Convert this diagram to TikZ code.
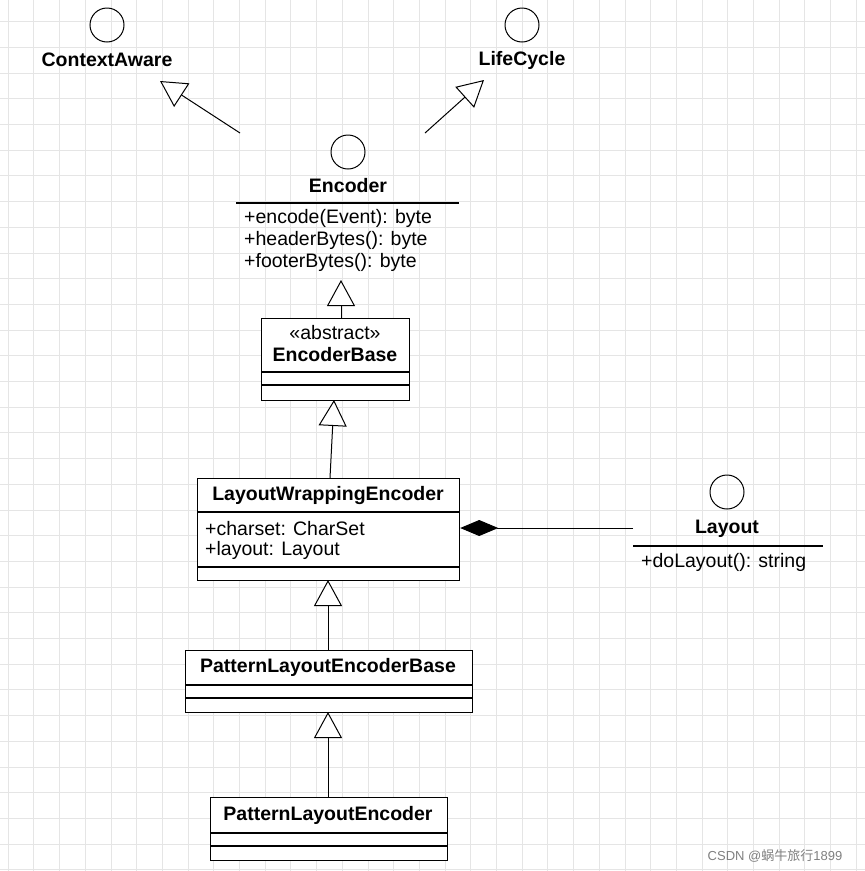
\documentclass[tikz,border=0pt]{standalone}
\usepackage{fontspec}
\setmainfont{Liberation Sans}
\newfontfamily\cjk{Noto Sans CJK SC}
\usetikzlibrary{arrows.meta}
\begin{document}
\begin{tikzpicture}[x=1pt,y=-1pt,
  txt/.style={inner sep=0pt,font=\fontsize{19.5}{22}\selectfont},
  bold/.style={txt,font=\fontsize{19.5}{22}\selectfont\bfseries},
  cls/.style={draw,line width=1.2pt,fill=white,inner sep=0pt,anchor=north west},
  iface/.style={draw,line width=1pt,circle,minimum size=34pt,inner sep=0pt},
  gen/.style={line width=1pt,-{Triangle[open,length=26pt,width=28pt,fill=white]}},
  sep/.style={line width=1.2pt}]
\useasboundingbox (0,0) rectangle (865,871);
\fill[white] (0,0) rectangle (865,871);
\foreach \i in {0,...,34} {
  \draw[gray!20,line width=1pt] ({25.7*\i-17.5},0) -- ({25.7*\i-17.5},871);
  \draw[gray!20,line width=1pt] (0,{25.7*\i-4}) -- (865,{25.7*\i-4});
}
% interfaces
\node[iface] (ca) at (107,25) {};
\node[bold] (caT) at (107,60) {ContextAware};
\node[iface] (lc) at (522,25) {};
\node[bold] (lcT) at (522,60) {LifeCycle};
\node[iface] (enc) at (348,152) {};
\node[bold] (encT) at (348,186) {Encoder};
\coordinate (encL) at (236,203); \coordinate (encR) at (459,203);
\draw[sep] (encL) -- (encR);
\node[txt,anchor=west] (m1) at (244,218) {+encode(Event): byte};
\node[txt,anchor=west] (m2) at (244,240) {+headerBytes(): byte};
\node[txt,anchor=west] (m3) at (244,262) {+footerBytes(): byte};
\coordinate (encB) at (341,280);
\coordinate (c1) at (240,133); \coordinate (c1t) at (160,81);
\coordinate (c2) at (425,133); \coordinate (c2t) at (484,80);
\draw[gen] (c1) -- (c1t);
\draw[gen] (c2) -- (c2t);
% EncoderBase
\node[cls,minimum width=148pt,minimum height=82pt] (eb) at (261,318) {};
\node[txt] (ebS) at (335,333) {«abstract»};
\node[bold] (ebT) at (335,355) {EncoderBase};
\draw[sep] (261,372) -- (409,372); \draw[sep] (261,385) -- (409,385);
\draw[gen] (341,318) -- (encB);
% LayoutWrappingEncoder
\node[cls,minimum width=262pt,minimum height=102pt] (lwe) at (197,478) {};
\node[bold] (lweT) at (328,495) {LayoutWrappingEncoder};
\draw[sep] (197,512) -- (459,512);
\node[txt,anchor=west] (a1) at (205,529) {+charset: CharSet};
\node[txt,anchor=west] (a2) at (205,550) {+layout: Layout};
\draw[sep] (197,567) -- (459,567);
\draw[gen] (330,478) -- (334,400);
% Layout
\node[iface] (lay) at (727,492) {};
\node[bold] (layT) at (727,529) {Layout};
\draw[sep] (633,546) -- (823,546);
\node[txt,anchor=west] (lm) at (641,562) {+doLayout(): string};
\coordinate (layL) at (633,528);
\draw[line width=1pt,-{Diamond[length=38pt,width=16pt]}] (layL) -- (lwe.east |- layL);
% PatternLayoutEncoderBase
\node[cls,minimum width=287pt,minimum height=62pt] (pleb) at (185,650) {};
\node[bold] (plebT) at (328,667) {PatternLayoutEncoderBase};
\draw[sep] (185,685) -- (472,685); \draw[sep] (185,698) -- (472,698);
\draw[gen] (328,650) -- (328,580);
% PatternLayoutEncoder
\node[cls,minimum width=237pt,minimum height=63pt] (ple) at (210,797) {};
\node[bold] (pleT) at (328,815) {PatternLayoutEncoder};
\draw[sep] (210,833) -- (447,833); \draw[sep] (210,846) -- (447,846);
\draw[gen] (328,797) -- (328,712);
\node[txt,font=\fontsize{13}{15}\selectfont,text=gray] (wm) at (775,856) {CSDN @{\cjk 蜗牛旅行}1899};
\end{tikzpicture}
\end{document}
